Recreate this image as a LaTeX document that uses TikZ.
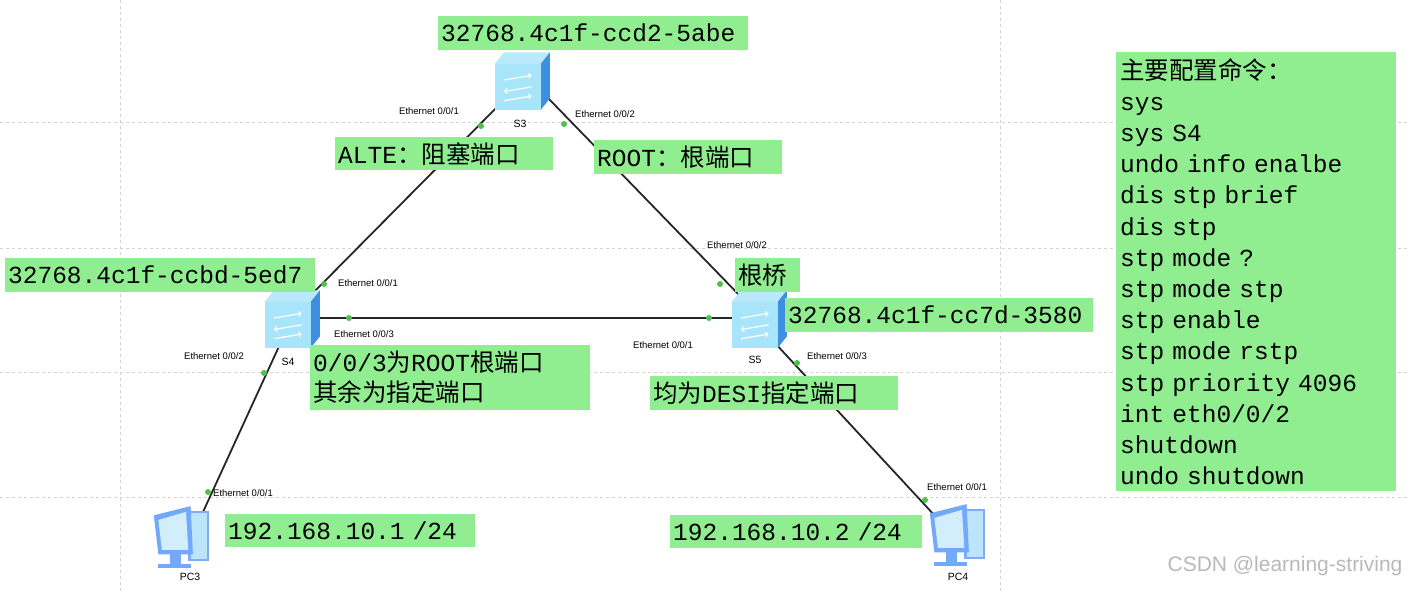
\documentclass[tikz,border=0pt]{standalone}
\usepackage{fontspec}
\setmainfont{Liberation Mono}[WordSpace={1,0,0},BoldFont={Liberation Mono Bold}]
\newfontfamily\cjk{Noto Sans CJK SC}[BoldFont={Noto Sans CJK SC Bold}]
\newfontfamily\ssf{Liberation Sans}
\definecolor{lg}{HTML}{90EE90}
\definecolor{sw}{HTML}{A8E4FA}
\definecolor{swd}{HTML}{3E8FE0}
\definecolor{pc}{HTML}{8FD3F8}
\tikzset{
 gbox/.style={fill=lg,inner sep=3pt,font=\fontsize{24.5}{30}\selectfont,align=left,anchor=north west},
 eth/.style={font=\ssf\fontsize{9.5}{11}\selectfont,inner sep=1pt},
 dev/.style={font=\ssf\fontsize{10.5}{12}\selectfont,inner sep=1pt},
 link/.style={line width=1.8pt,black!85},
 dot/.style={circle,fill=green!65!black!70,inner sep=0pt,minimum size=6pt},
 grid/.style={gray!35,dashed,line width=0.6pt}
}
\newcommand{\switchicon}[2]{%
 \begin{scope}[shift={(#1)},scale=1.15]
  \fill[sw!80!white] (-22,-14) -- (-14,-24) -- (26,-24) -- (18,-14) -- cycle;
  \fill[swd] (18,-14) -- (26,-24) -- (26,16) -- (18,26) -- cycle;
  \fill[sw] (-22,-14) rectangle (18,26);
  \draw[white,line width=1.2pt,->] (-14,0) -- (10,-4);
  \draw[white,line width=1.2pt,<-] (-14,10) -- (10,6);
  \draw[white,line width=1.2pt,->] (-14,18) -- (10,14);
  \coordinate (#2) at (0,0);
 \end{scope}}
\newcommand{\pcicon}[1]{%
 \begin{scope}[shift={(#1)},scale=1.15]
  \fill[pc!70!blue!80] (2,-22) rectangle (20,22);
  \fill[pc!60!white] (4,-20) rectangle (18,20);
  \fill[pc!80!blue] (-28,-18) -- (4,-26) -- (6,16) -- (-24,16) -- cycle;
  \fill[pc!40!white] (-24,-14) -- (0,-21) -- (2,12) -- (-21,12) -- cycle;
  \fill[pc!80!blue] (-14,16) rectangle (-4,24);
  \fill[pc!80!blue] (-24,24) rectangle (4,28);
 \end{scope}}
\begin{document}
\begin{tikzpicture}[x=1pt,y=-1pt]
\useasboundingbox (0,0) rectangle (1410,591);
\fill[white] (0,0) rectangle (1410,591);
\foreach \xx in {120,1000} \draw[grid] (\xx,0) -- (\xx,591);
\foreach \yy in {122,248,372,497} \draw[grid] (0,\yy) -- (1410,\yy);
% links
\coordinate (a1) at (506,98); \coordinate (a2) at (310,296);
\coordinate (b1) at (548,98); \coordinate (b2) at (742,298);
\coordinate (c1) at (316,318); \coordinate (c2) at (734,318);
\coordinate (d1) at (281,342); \coordinate (d2) at (203,512);
\coordinate (e1) at (774,342); \coordinate (e2) at (936,517);
\draw[link] (a1) -- (a2);
\draw[link] (b1) -- (b2);
\draw[link,line width=2.4pt] (c1) -- (c2);
\draw[link] (d1) -- (d2);
\draw[link] (e1) -- (e2);
% devices
\switchicon{520,80}{s3}
\switchicon{290,318}{s4}
\switchicon{757,318}{s5}
\pcicon{186,536}
\pcicon{962,534}
\node[dev] (s3l) at (520,124) {S3};
\node[dev] (s4l) at (288,362) {S4};
\node[dev] (s5l) at (755,360) {S5};
\node[dev] (pc3l) at (190,577) {PC3};
\node[dev] (pc4l) at (958,577) {PC4};
\node[dot] (p1) at (481,126) {}; \node[dot] (p2) at (324,284) {};
\node[dot] (p3) at (564,124) {}; \node[dot] (p4) at (720,284) {};
\node[dot] (p5) at (349,318) {}; \node[dot] (p6) at (709,318) {};
\node[dot] (p7) at (264,373) {}; \node[dot] (p8) at (208,492) {};
\node[dot] (p9) at (797,363) {}; \node[dot] (p10) at (925,500) {};
% ethernet labels
\node[eth,anchor=west] (e01) at (398,111) {Ethernet 0/0/1};
\node[eth,anchor=west] (e02) at (574,114) {Ethernet 0/0/2};
\node[eth,anchor=west] (e03) at (706,245) {Ethernet 0/0/2};
\node[eth,anchor=west] (e04) at (337,283) {Ethernet 0/0/1};
\node[eth,anchor=west] (e05) at (333,334) {Ethernet 0/0/3};
\node[eth,anchor=west] (e06) at (183,356) {Ethernet 0/0/2};
\node[eth,anchor=west] (e07) at (632,345) {Ethernet 0/0/1};
\node[eth,anchor=west] (e08) at (806,356) {Ethernet 0/0/3};
\node[eth,anchor=west] (e09) at (212,493) {Ethernet 0/0/1};
\node[eth,anchor=west] (e10) at (926,487) {Ethernet 0/0/1};
% green boxes
\node[gbox,text width=304pt,minimum height=34pt] (b1n) at (438,16) {32768.4c1f-ccd2-5abe};
\node[gbox,text width=304pt,minimum height=34pt] (b2n) at (5,258) {32768.4c1f-ccbd-5ed7};
\node[gbox,text width=302pt,minimum height=34pt] (b3n) at (785,298) {32768.4c1f-cc7d-3580};
\node[gbox,text width=59pt,minimum height=34pt] (b4n) at (735,258) {\cjk 根桥};
\node[gbox,text width=212pt,minimum height=33pt] (b5n) at (335,137) {ALTE{\cjk ：阻塞端口}};
\node[gbox,text width=182pt,minimum height=34pt] (b6n) at (594,140) {ROOT{\cjk ：根端口}};
\node[gbox,text width=274pt,minimum height=65pt,font=\fontsize{24.5}{30}\selectfont] (b7n) at (310,345) {0/0/3{\cjk 为}ROOT{\cjk 根端口}\\{\cjk 其余为指定端口}};
\node[gbox,text width=242pt,minimum height=34pt] (b8n) at (650,376) {{\cjk 均为}DESI{\cjk 指定端口}};
\node[gbox,text width=244pt,minimum height=33pt] (b9n) at (225,514) {192.168.10.1 /24};
\node[gbox,text width=246pt,minimum height=33pt] (b10n) at (670,515) {192.168.10.2 /24};
\node[gbox,minimum height=439pt,text width=272pt,font=\fontsize{24.5}{31.2}\selectfont,inner sep=4pt] (cmd) at (1116,52) {%
{\cjk 主要配置命令：}\\sys\\sys S4\\undo info enalbe\\dis stp brief\\dis stp\\stp mode ?\\stp mode stp\\stp enable\\stp mode rstp\\stp priority 4096\\int eth0/0/2\\shutdown\\undo shutdown};
\node[font=\ssf\fontsize{21}{24}\selectfont,text=gray!55,anchor=east] (wm) at (1406,566) {CSDN @learning-striving};
\end{tikzpicture}
\end{document}
